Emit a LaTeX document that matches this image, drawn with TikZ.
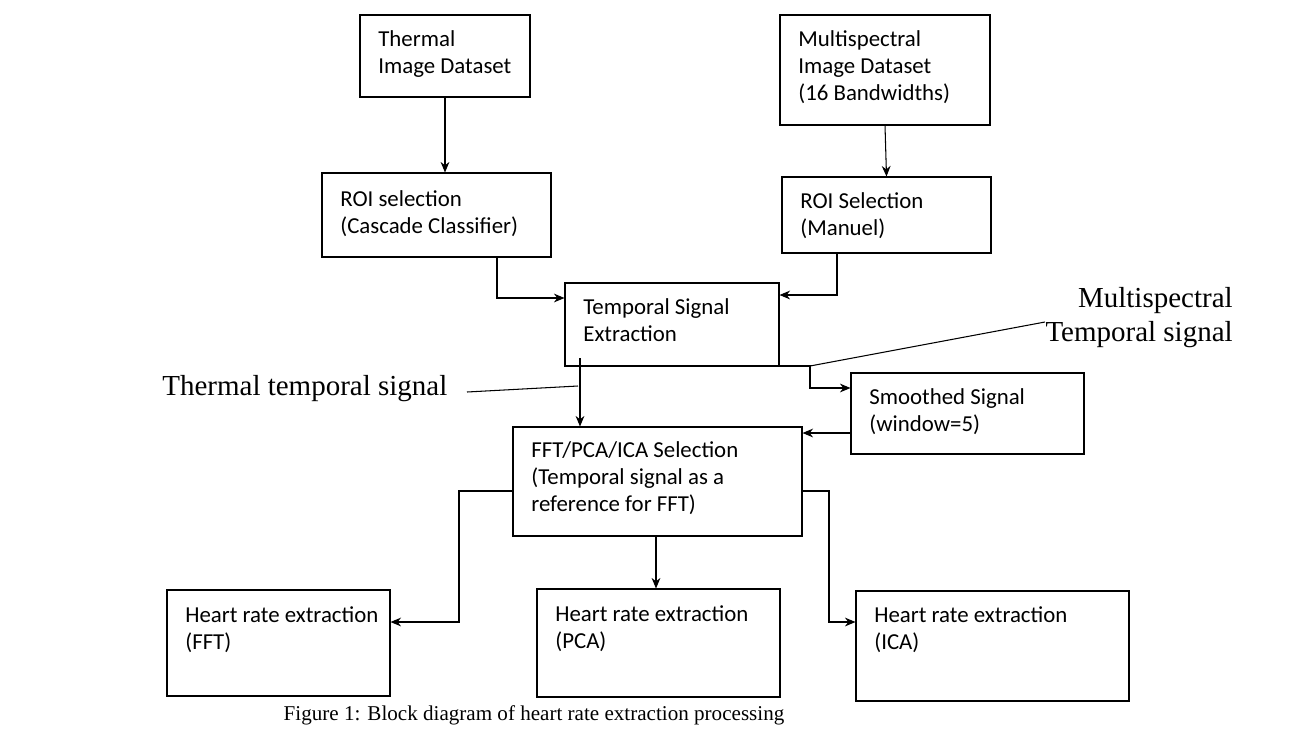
\documentclass[tikz,border=0pt]{standalone}
\usepackage{fontspec}
\setmainfont{Liberation Serif}
\newfontfamily\boxfont{Carlito}
\usetikzlibrary{fit,calc,arrows.meta}
\begin{document}
\begin{tikzpicture}[x=0.02cm,y=-0.02cm,
  box/.style={draw,line width=0.6pt,inner sep=0pt},
  txt/.style={anchor=north west,align=left,inner sep=0pt,font=\boxfont\fontsize{13}{15.5}\selectfont},
  arr/.style={-{Stealth[length=6pt,width=5pt]},line width=0.6pt},
  ln/.style={line width=0.6pt},
  lab/.style={font=\fontsize{16.5}{19.5}\selectfont,inner sep=0pt}]
\useasboundingbox (0,0) rectangle (1314,754);
\node[box,fit={(360,15)(530,97)}] (th) {};
\node[txt] (tht) at (378,30) {Thermal\\Image Dataset};
\node[box,fit={(780,15)(990,125)}] (ms) {};
\node[txt] (mst) at (798,30) {Multispectral\\Image Dataset\\(16 Bandwidths)};
\node[box,fit={(322,173)(551,257)}] (r1) {};
\node[txt] (r1t) at (340,190) {ROI selection\\(Cascade Classifier)};
\node[box,fit={(782,177)(991,253)}] (r2) {};
\node[txt] (r2t) at (800,192) {ROI Selection\\(Manuel)};
\node[box,fit={(565,283)(779,366)}] (ts) {};
\node[txt] (tst) at (583,298) {Temporal Signal\\Extraction};
\node[box,fit={(851,373)(1084,454)}] (sm) {};
\node[txt] (smt) at (869,388) {Smoothed Signal\\(window=5)};
\node[box,fit={(513,427)(802,536)}] (fp) {};
\node[txt] (fpt) at (531,441) {FFT/PCA/ICA Selection\\(Temporal signal as a\\reference for FFT)};
\node[box,fit={(167,590)(390,696)}] (h1) {};
\node[txt] (h1t) at (185,606) {Heart rate extraction\\(FFT)};
\node[box,fit={(537,589)(780,697)}] (h2) {};
\node[txt] (h2t) at (555,605) {Heart rate extraction\\(PCA)};
\node[box,fit={(856,591)(1129,701)}] (h3) {};
\node[txt] (h3t) at (874,606) {Heart rate extraction\\(ICA)};
\draw[arr] (th.south) -- (r1.north-|th.south);
\draw[arr] (ms.south) -- (r2.north);
\draw[arr] (r1.south-|497,0) |- (ts.west|-0,298);
\draw[arr] (r2.south-|837,0) |- (ts.east|-0,295);
\coordinate (tsd) at (580,358);
\draw[arr] (tsd) -- (fp.north-|tsd);
\coordinate (tsr) at (765,366);
\coordinate (bend) at (810,366);
\draw[arr] (tsr) -- (bend) |- (sm.west|-0,388);
\draw[arr] (sm.west|-0,433) -- (fp.east|-0,433);
\draw[arr] (fp.west|-0,491) -- (459,491) |- (h1.east|-0,622);
\draw[arr] (fp.south-|656,0) -- (h2.north-|656,0);
\draw[arr] (fp.east|-0,491) -- (829,491) |- (h3.west|-0,622);
\node[lab,anchor=west] (tl) at (162,389) {Thermal temporal signal};
\draw[ln] (467,392) -- (578,386);
\node[lab,anchor=north east,align=right] (ml) at (1233,287) {Multispectral\\Temporal signal};
\draw[ln] (bend) -- (1045,322);
\node[inner sep=0pt,font=\fontsize{12}{14}\selectfont] (cap) at (534,715) {Figure 1: Block diagram of heart rate extraction processing};
\end{tikzpicture}
\end{document}
